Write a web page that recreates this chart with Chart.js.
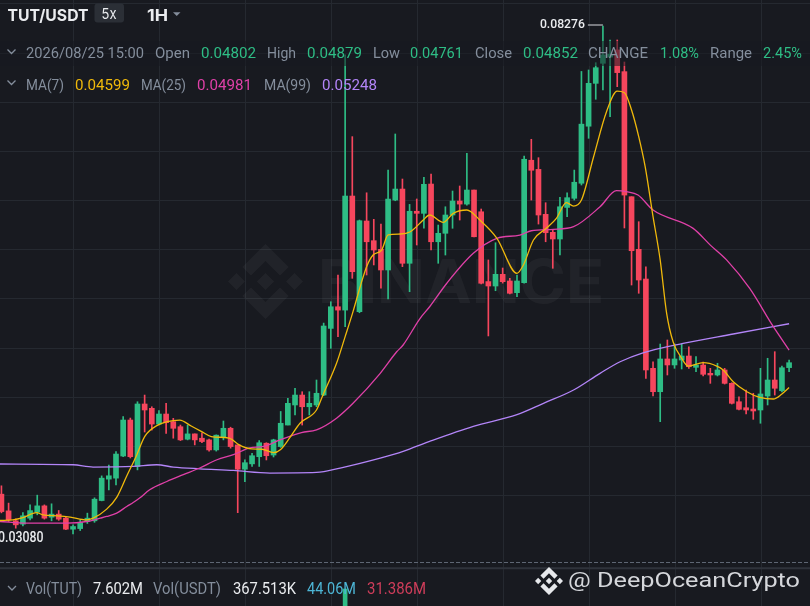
<!DOCTYPE html>
<html><head><meta charset="utf-8">
<script src="https://cdn.jsdelivr.net/npm/chart.js@4.4.0/dist/chart.umd.min.js"></script>
<style>html,body{margin:0;padding:0;background:#181A20;overflow:hidden}canvas{display:block}</style>
</head><body>
<div style="width:810px;height:606px;position:relative"><canvas id="c" width="810" height="606"></canvas></div>
<script>
// ---- candle data (1H, TUT/USDT) ----
const openP  = [0.03515,0.03345,0.03244,0.03210,0.03271,0.03332,0.03396,0.03281,0.03312,0.03271,0.03159,0.03165,0.03237,0.03244,0.03450,0.03668,0.03678,0.03903,0.04269,0.03796,0.04432,0.04388,0.04228,0.04330,0.04252,0.04201,0.04074,0.04128,0.04084,0.04067,0.03965,0.04093,0.04185,0.04016,0.03769,0.03823,0.03896,0.04033,0.03913,0.03999,0.04218,0.04422,0.04523,0.04404,0.04422,0.04523,0.05201,0.05421,0.05387,0.06547,0.05371,0.06293,0.06093,0.06005,0.05795,0.06506,0.06618,0.05863,0.06392,0.06371,0.06669,0.06082,0.06168,0.06354,0.06496,0.06465,0.06608,0.06387,0.05677,0.05632,0.05751,0.05683,0.05564,0.05666,0.06911,0.06818,0.06361,0.06178,0.06110,0.06431,0.06524,0.06677,0.07257,0.07693,0.07897,0.07960,0.08033,0.07812,0.06540,0.06005,0.05703,0.04795,0.04557,0.04890,0.04829,0.04879,0.04920,0.04805,0.04828,0.04744,0.04727,0.04778,0.04642,0.04455,0.04394,0.04381,0.04371,0.04513,0.04676,0.04567,0.04802];
const highP  = [0.03600,0.03424,0.03264,0.03328,0.03406,0.03505,0.03406,0.03417,0.03349,0.03284,0.03203,0.03254,0.03322,0.03478,0.03701,0.03811,0.03947,0.04303,0.04289,0.04455,0.04523,0.04404,0.04364,0.04439,0.04286,0.04218,0.04218,0.04128,0.04138,0.04074,0.04118,0.04259,0.04196,0.04016,0.03863,0.03931,0.04060,0.04038,0.04074,0.04356,0.04490,0.04592,0.04557,0.04557,0.04676,0.05255,0.05472,0.05743,0.07982,0.07151,0.06303,0.06580,0.06310,0.06262,0.06811,0.07178,0.06720,0.06462,0.06517,0.06737,0.06771,0.06252,0.06438,0.06598,0.06649,0.06982,0.06608,0.06415,0.05897,0.06072,0.05815,0.05711,0.05744,0.06954,0.07124,0.06937,0.06479,0.06201,0.06534,0.06580,0.06811,0.07814,0.07829,0.07903,0.08276,0.08134,0.08134,0.07910,0.06540,0.06286,0.05828,0.04862,0.05042,0.05083,0.05042,0.05042,0.05014,0.04913,0.04859,0.04795,0.04846,0.04795,0.04648,0.04506,0.04574,0.04541,0.04795,0.04897,0.04964,0.04818,0.04879];
const lowP   = [0.03325,0.03237,0.03169,0.03193,0.03254,0.03305,0.03261,0.03244,0.03249,0.03155,0.03112,0.03145,0.03217,0.03229,0.03447,0.03559,0.03610,0.03896,0.03883,0.03762,0.04147,0.04167,0.04218,0.04134,0.04084,0.04060,0.04067,0.04016,0.04040,0.03953,0.03953,0.04067,0.03983,0.03327,0.03643,0.03797,0.03797,0.03863,0.03893,0.03991,0.04218,0.04320,0.04218,0.04320,0.04404,0.04516,0.04998,0.05116,0.05218,0.05710,0.05360,0.05744,0.05846,0.05609,0.05500,0.06499,0.05829,0.05574,0.06049,0.06219,0.05998,0.05863,0.05947,0.06219,0.06303,0.06455,0.06130,0.05653,0.05124,0.05584,0.05661,0.05551,0.05523,0.05660,0.06506,0.06262,0.06082,0.05812,0.05947,0.06337,0.06506,0.06659,0.07134,0.07531,0.07625,0.07354,0.07659,0.06222,0.05642,0.05558,0.04693,0.04513,0.04252,0.04727,0.04795,0.04788,0.04795,0.04760,0.04717,0.04642,0.04717,0.04635,0.04432,0.04371,0.04330,0.04276,0.04236,0.04422,0.04523,0.04554,0.04761];
const closeP = [0.03338,0.03254,0.03203,0.03295,0.03348,0.03396,0.03271,0.03312,0.03261,0.03159,0.03186,0.03226,0.03271,0.03464,0.03678,0.03702,0.03923,0.04269,0.03896,0.04432,0.04371,0.04228,0.04330,0.04242,0.04185,0.04067,0.04128,0.04067,0.04050,0.03965,0.04115,0.04185,0.03999,0.03769,0.03835,0.03906,0.04038,0.03906,0.04067,0.04236,0.04439,0.04523,0.04404,0.04439,0.04541,0.05225,0.05421,0.05387,0.06547,0.05778,0.06296,0.06082,0.05998,0.05795,0.06516,0.06618,0.05863,0.06392,0.06371,0.06666,0.06082,0.06168,0.06354,0.06496,0.06465,0.06608,0.06133,0.05660,0.05632,0.05751,0.05676,0.05558,0.05683,0.06921,0.06809,0.06354,0.06174,0.06110,0.06438,0.06530,0.06687,0.07278,0.07693,0.07852,0.07982,0.07990,0.07802,0.06557,0.05991,0.05693,0.04778,0.04557,0.04890,0.04829,0.04890,0.04920,0.04811,0.04828,0.04734,0.04727,0.04778,0.04642,0.04439,0.04378,0.04371,0.04361,0.04534,0.04676,0.04592,0.04801,0.04852];

// ---- moving averages: [candle index, value] ----
const ma7 = [[-0.2,0.03247],[1.6,0.03254],[3.0,0.03277],[4.9,0.03328],[5.8,0.03305],[7.9,0.03295],[9.6,0.03282],[11.9,0.03254],[12.8,0.03271],[14.7,0.03363],[16.1,0.03483],[17.5,0.03700],[18.9,0.03914],[20.0,0.04101],[21.9,0.04220],[23.1,0.04252],[24.9,0.04269],[26.5,0.04208],[27.9,0.04154],[29.3,0.04101],[31.8,0.04084],[33.2,0.04016],[34.9,0.03975],[36.4,0.03972],[38.0,0.03937],[39.0,0.03970],[40.3,0.04092],[41.7,0.04236],[44.0,0.04371],[44.9,0.04523],[46.8,0.04846],[48.0,0.05117],[49.1,0.05371],[50.1,0.05625],[51.0,0.05829],[51.9,0.05947],[53.1,0.05998],[54.0,0.06151],[55.7,0.06161],[57.1,0.06184],[58.9,0.06303],[59.8,0.06354],[61.7,0.06280],[63.1,0.06371],[65.0,0.06405],[66.8,0.06303],[69.2,0.06117],[72.0,0.05761],[72.9,0.05846],[74.3,0.06100],[76.1,0.06219],[77.5,0.06320],[78.9,0.06479],[79.9,0.06445],[81.0,0.06506],[82.7,0.06947],[84.5,0.07405],[86.0,0.07613],[87.0,0.07598],[88.0,0.07422],[89.0,0.07151],[89.9,0.06845],[91.0,0.06337],[92.0,0.05896],[92.9,0.05354],[93.8,0.05065],[95.0,0.04897],[95.9,0.04818],[98.0,0.04852],[99.9,0.04818],[100.8,0.04778],[102.2,0.04659],[104.1,0.04557],[105.9,0.04500],[107.8,0.04483],[109.0,0.04534],[110,0.04599]];
const ma25 = [[-0.2,0.03237],[3.5,0.03220],[9.1,0.03220],[11.9,0.03237],[13.8,0.03271],[14.7,0.03288],[16.1,0.03322],[17.5,0.03390],[18.4,0.03430],[19.3,0.03475],[20.7,0.03560],[23.1,0.03644],[25.4,0.03713],[27.7,0.03781],[30.1,0.03865],[32.4,0.03917],[34.7,0.03985],[36.6,0.04000],[38.9,0.04067],[41.9,0.04142],[44.0,0.04169],[46.8,0.04288],[49.1,0.04439],[52.9,0.04744],[55.2,0.04963],[56.1,0.05032],[58.4,0.05296],[59.8,0.05421],[62.2,0.05660],[65.9,0.05964],[69.2,0.06117],[72.4,0.06150],[74.0,0.06194],[77.1,0.06208],[79.9,0.06235],[83.6,0.06438],[85.9,0.06601],[87.3,0.06591],[88.9,0.06557],[91.0,0.06404],[96.6,0.06218],[99.0,0.06048],[101.3,0.05895],[104.5,0.05607],[107.8,0.05218],[110,0.04981]];
const ma99 = [[-0.2,0.03822],[10.0,0.03814],[12.8,0.03791],[18.4,0.03797],[21.7,0.03814],[24.0,0.03791],[27.7,0.03773],[32.4,0.03756],[37.5,0.03730],[44.0,0.03736],[47.3,0.03781],[52.9,0.03882],[56.1,0.03950],[59.8,0.04052],[65.9,0.04205],[72.0,0.04324],[75.7,0.04439],[79.9,0.04574],[83.6,0.04744],[86.4,0.04862],[89.6,0.04953],[95.2,0.05049],[102.2,0.05144],[110,0.05248]];

// ---- volume (only the one bar that reaches into view) ----
const volIndex = [48];
const volValue = [120];

// ---- tick values ----
const priceTicks = [0.035,0.040,0.045,0.050,0.055,0.060,0.065,0.070,0.075,0.080,0.085];
const gridStart = 4.09, gridStep = 12.01, gridCount = 10;   // one vertical grid line every 12 candles
const timeTicks = Array.from({length:gridCount}, (_,k)=> gridStart + gridStep*k);

// ---- header texts ----
const pairName = "TUT/USDT", leverage = "5x", interval = "1H";
const infoRow = [
  ["2026/08/25 15:00","#848E9C",26,144],["Open","#848E9C",155,190],["0.04802","#2EBD85",201,256],
  ["High","#848E9C",267,296],["0.04879","#2EBD85",307,362],["Low","#848E9C",373,400],
  ["0.04761","#2EBD85",410,463],["Close","#848E9C",475,512],["0.04852","#2EBD85",523,578],
  ["CHANGE","#848E9C",588,648],["1.08%","#2EBD85",660,699],["Range","#848E9C",710,752],["2.45%","#2EBD85",763,802]];
const maRow = [["MA(7)","#848E9C",26,64],["0.04599","#F0B90B",75,130],["MA(25)","#848E9C",141,186],
  ["0.04981","#E040A8",197,252],["MA(99)","#848E9C",264,311],["0.05248","#B385F8",322,377]];
const volRow = [["Vol(TUT)","#848E9C",26,82],["7.602M","#EAECEF",93,143],["Vol(USDT)","#848E9C",153,221],
  ["367.513K","#EAECEF",233,296],["44.06M","#4DB6D6",307,356],["31.386M","#CF3D5A",367,426]];
const lowMark = 0.03080;
const credit = "@ DeepOceanCrypto";

const GREEN = '#2EBD85', RED = '#F6465D';
const colorOf = i => closeP[i] >= openP[i] ? GREEN : RED;

function fitText(ctx, str, x, base, w, font, color){
  ctx.font = font;
  const m = ctx.measureText(str).width;
  ctx.save(); ctx.translate(x, base); ctx.scale(w/m, 1);
  ctx.fillStyle = color; ctx.textBaseline = 'alphabetic'; ctx.textAlign='left';
  ctx.fillText(str, 0, 0); ctx.restore();
}
function chevron(ctx, x, y){
  ctx.save(); ctx.strokeStyle='#848E9C'; ctx.lineWidth=1.3;
  ctx.beginPath(); ctx.moveTo(x, y); ctx.lineTo(x+4, y+4); ctx.lineTo(x+8, y); ctx.stroke(); ctx.restore();
}
function binanceLogo(ctx, ox, oy, size, color){
  const s = size/126.61;
  const polys = [
    [[38.73,53.2],[63.3,28.64],[87.89,53.22],[102.19,38.92],[63.3,0],[24.42,38.9]],
    [[0,63.31],[14.3,49.01],[28.6,63.31],[14.3,77.61]],
    [[38.73,73.41],[63.3,97.97],[87.88,73.39],[102.19,87.68],[63.3,126.61],[24.41,87.73]],
    [[98.01,63.31],[112.31,49.01],[126.61,63.3],[112.31,77.61]],
    [[63.3,48.77],[77.84,63.3],[63.3,77.84],[48.77,63.3]]];
  ctx.save(); ctx.fillStyle=color;
  polys.forEach(p=>{ ctx.beginPath(); p.forEach(([a,b],k)=>{ const X=ox+a*s, Y=oy+b*s; k?ctx.lineTo(X,Y):ctx.moveTo(X,Y); }); ctx.closePath(); ctx.fill(); });
  ctx.restore();
}

const decor = {
  id:'decor',
  beforeDraw(chart){
    const c = chart.ctx; c.save(); c.fillStyle='#181A20'; c.fillRect(0,0,chart.width,chart.height); c.restore();
  },
  beforeDatasetsDraw(chart){
    const c = chart.ctx;
    binanceLogo(c, 228, 244, 75, 'rgba(255,255,255,0.045)');
    fitText(c, 'BINANCE', 318, 303, 286, 'bold 60px Inter', 'rgba(255,255,255,0.045)');
  },
  afterDraw(chart){
    const c = chart.ctx, xs = chart.scales.x, ys = chart.scales.y;
    // translucent legend band
    c.save(); c.fillStyle='rgba(24,26,32,0.55)'; c.fillRect(0,41,810,25); c.restore();
    // header
    fitText(c, pairName, 7.5, 20.7, 81, 'bold 16px Inter', '#EAECEF');
    c.save(); c.fillStyle='#2B2F36'; c.beginPath(); c.roundRect(94.5,3.5,29.5,19,3); c.fill(); c.restore();
    fitText(c, leverage, 101.5, 18.8, 15, '15px Inter', '#EAECEF');
    fitText(c, interval, 147, 20.7, 21, 'bold 16px Inter', '#EAECEF');
    c.save(); c.fillStyle='#848E9C'; c.beginPath(); c.moveTo(173,12.3); c.lineTo(180.5,12.3); c.lineTo(176.75,16); c.closePath(); c.fill(); c.restore();
    // legend rows
    chevron(c, 7.5, 49.5);
    infoRow.forEach(([t,col,a,b])=>fitText(c, t, a, 58.3, b-a, '15px Roboto', col));
    chevron(c, 7.5, 80.5);
    maRow.forEach(([t,col,a,b])=>fitText(c, t, a, 90, b-a, '15px Roboto', col));
    // high marker
    let hi = 0, hiI = 0; highP.forEach((v,i)=>{ if(v>hi){hi=v;hiI=i;} });
    const hx = xs.getPixelForValue(hiI), hy = Math.round(ys.getPixelForValue(hi)) - 1.5;
    c.save(); c.strokeStyle='#D8DADF'; c.lineWidth=1; c.beginPath(); c.moveTo(hx-15, hy+0.5); c.lineTo(hx, hy+0.5); c.stroke(); c.restore();
    fitText(c, hi.toFixed(5), hx-63, hy+3.5, 45, '500 12px Roboto', '#EAECEF');
    // low marker (low of a candle just left of view)
    const ly = ys.getPixelForValue(lowMark);
    fitText(c, lowMark.toFixed(5), -2, ly+5, 45.5, '500 14px Roboto', '#EAECEF');
    // pane separators
    c.save(); c.strokeStyle='#5E6673'; c.lineWidth=1; c.setLineDash([4,2]);
    c.beginPath(); c.moveTo(0,562.5); c.lineTo(810,562.5); c.stroke();
    c.setLineDash([]); c.strokeStyle='#2F333B'; c.lineWidth=2;
    c.beginPath(); c.moveTo(0,568.3); c.lineTo(810,568.3); c.stroke(); c.restore();
    // volume legend
    chevron(c, 8, 586);
    volRow.forEach(([t,col,a,b])=>fitText(c, t, a, 594.3, b-a, '16px Roboto', col));
    // credit
    binanceLogo(c, 535, 567, 28, '#E6E8EB');
    fitText(c, credit, 568, 587, 232, '21px Roboto', '#D5D7DB');
  }
};

const gridColor = '#252930';
new Chart(document.getElementById('c'), {
  type:'bar',
  data:{
    datasets:[
      {type:'line', label:'MA(7)', data:ma7.map(([x,y])=>({x,y})), borderColor:'#F0B90B', borderWidth:1.3, pointRadius:0, fill:false, cubicInterpolationMode:'monotone', order:0},
      {type:'line', label:'MA(25)', data:ma25.map(([x,y])=>({x,y})), borderColor:'#E040A8', borderWidth:1.3, pointRadius:0, fill:false, cubicInterpolationMode:'monotone', order:0},
      {type:'line', label:'MA(99)', data:ma99.map(([x,y])=>({x,y})), borderColor:'#B385F8', borderWidth:1.3, pointRadius:0, fill:false, cubicInterpolationMode:'monotone', order:0},
      {label:'body', data:openP.map((o,i)=>({x:i, y:[o, closeP[i]]})), backgroundColor:ctx=>colorOf(ctx.dataIndex), barThickness:5, minBarLength:1, grouped:false, order:1},
      {label:'wick', data:openP.map((o,i)=>({x:i, y:[lowP[i], highP[i]]})), backgroundColor:ctx=>colorOf(ctx.dataIndex), barThickness:1, grouped:false, order:2},
      {label:'vol', yAxisID:'yv', data:volIndex.map((i,k)=>({x:i, y:volValue[k]})), backgroundColor:ctx=>colorOf(volIndex[ctx.dataIndex]), barThickness:4, grouped:false, order:3}
    ]
  },
  options:{
    responsive:false, animation:false, devicePixelRatio:1,
    layout:{padding:0},
    plugins:{legend:{display:false}, tooltip:{enabled:false}},
    scales:{
      x:{type:'linear', min:-0.2, max:112.92, offset:false,
         afterBuildTicks:s=>{ s.ticks = timeTicks.map(v=>({value:v})); },
         ticks:{display:false}, grid:{color:gridColor, drawTicks:false, lineWidth:1}, border:{display:false}},
      y:{type:'linear', position:'right', min:0.023777, max:0.085406,
         afterBuildTicks:s=>{ s.ticks = priceTicks.map(v=>({value:v})); },
         ticks:{display:false}, grid:{color:gridColor, drawTicks:false, lineWidth:1}, border:{display:false}},
      yv:{type:'linear', min:0, max:4280, display:false}
    }
  },
  plugins:[decor]
});
</script>
</body></html>
